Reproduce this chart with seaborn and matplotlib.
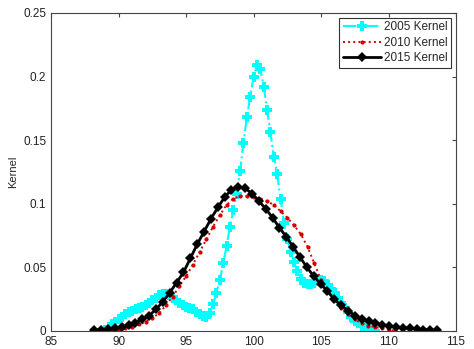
# kernel density curves for 2005 / 2010 / 2015
import numpy as np
import pandas as pd
import matplotlib
matplotlib.use("Agg")
import matplotlib.pyplot as plt
import seaborn as sns


# values
labels = ["2005 Kernel", "2010 Kernel", "2015 Kernel"]

x_2005 = np.linspace(89.0, 109.0, 81)
kernel_2005 = [
    0.001, 0.003, 0.005, 0.007, 0.009, 0.011, 0.013, 0.0145, 0.016, 0.017,
    0.018, 0.019, 0.0205, 0.022, 0.024, 0.026, 0.028, 0.029, 0.029, 0.028,
    0.026, 0.024, 0.022, 0.020, 0.019, 0.018, 0.017, 0.015, 0.013, 0.012,
    0.011, 0.014, 0.021, 0.030, 0.040, 0.053, 0.067, 0.082, 0.095, 0.108,
    0.126, 0.148, 0.168, 0.184, 0.200, 0.209, 0.206, 0.192, 0.174, 0.156,
    0.137, 0.123, 0.104, 0.085, 0.072, 0.062, 0.054, 0.047, 0.041, 0.038,
    0.037, 0.037, 0.038, 0.039, 0.040, 0.039, 0.036, 0.033, 0.030, 0.026,
    0.022, 0.018, 0.015, 0.011, 0.008, 0.006, 0.004, 0.003, 0.002, 0.001,
    0.000,
]

x_2010 = np.linspace(89.5, 110.5, 43)
kernel_2010 = [
    0.000, 0.001, 0.002, 0.003, 0.005, 0.007, 0.010, 0.014, 0.020, 0.027,
    0.035, 0.043, 0.052, 0.062, 0.072, 0.082, 0.091, 0.099, 0.104, 0.106,
    0.106, 0.105, 0.104, 0.102, 0.099, 0.094, 0.089, 0.083, 0.076, 0.066,
    0.053, 0.040, 0.031, 0.024, 0.018, 0.013, 0.009, 0.006, 0.004, 0.003,
    0.002, 0.001, 0.000,
]

x_2015 = np.linspace(88.2, 113.6, 51)
kernel_2015 = [
    0.0003, 0.001, 0.0015, 0.002, 0.003, 0.0045, 0.0065, 0.009, 0.012, 0.017,
    0.023, 0.030, 0.038, 0.046, 0.057, 0.068, 0.078, 0.088, 0.097, 0.105,
    0.111, 0.1135, 0.112, 0.108, 0.102, 0.096, 0.089, 0.081, 0.074, 0.066,
    0.058, 0.050, 0.043, 0.037, 0.031, 0.025, 0.020, 0.016, 0.012, 0.009,
    0.0075, 0.006, 0.0048, 0.0038, 0.003, 0.0025, 0.002, 0.0015, 0.001, 0.0006,
    0.0003,
]


sns.set_style("white")
plt.rcParams["font.family"] = ["Liberation Sans", "DejaVu Sans"]

fig = plt.figure(figsize=(4.74, 3.49), dpi=100)
ax = fig.add_axes([0.108, 0.052, 0.854, 0.911])

sns.lineplot(x=x_2005, y=kernel_2005, ax=ax, color="#00ffff", linestyle="-.",
             linewidth=1.5, marker="P", markersize=7, markeredgewidth=0,
             label=labels[0])
sns.lineplot(x=x_2010, y=kernel_2010, ax=ax, color="#d40000", linestyle=":",
             linewidth=1.4, marker="o", markersize=3, markeredgewidth=0,
             label=labels[1])
sns.lineplot(x=x_2015, y=kernel_2015, ax=ax, color="black", linestyle="-",
             linewidth=2, marker="D", markersize=5, markeredgewidth=0,
             label=labels[2])

ax.set_xlim(85, 115)
ax.set_ylim(0, 0.25)
ax.set_xticks(range(85, 116, 5))
ax.set_yticks([0, 0.05, 0.1, 0.15, 0.2, 0.25])
ax.set_yticklabels(["0", "0.05", "0.1", "0.15", "0.2", "0.25"])
ax.set_ylabel("Kernel", fontsize=8)
ax.set_xlabel("")

ax.tick_params(direction="in", top=True, right=True, length=3,
               labelsize=8.5, color="#444444", labelcolor="#222222")
for spine in ax.spines.values():
    spine.set_color("#444444")
    spine.set_linewidth(0.8)

leg = ax.legend(loc="upper right", fontsize=8.5, fancybox=False,
                edgecolor="#333333", framealpha=1, handlelength=3.2,
                borderaxespad=0.4, borderpad=0.3, labelspacing=0.3,
                handletextpad=0.3)
leg.get_frame().set_linewidth(0.8)

plt.savefig("out.png", dpi=100)
